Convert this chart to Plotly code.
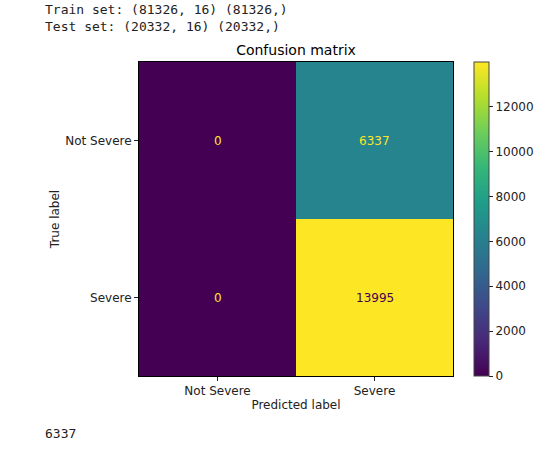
import plotly.graph_objects as go

# Confusion matrix values (rows = true label, cols = predicted label)
labels = ["Not Severe", "Severe"]
counts = [[0, 6337],
          [0, 13995]]
header_lines = ["Train set: (81326, 16) (81326,)",
                "Test set: (20332, 16) (20332,)"]
footer_text = "6337"

W, H = 557, 471
zmax = max(max(r) for r in counts)


def px_x(p):
    return p / W


def px_y(p):
    return 1 - p / H


fig = go.Figure()
fig.add_trace(go.Heatmap(
    z=counts, x=labels, y=labels,
    colorscale="Viridis", zmin=0, zmax=zmax,
    hoverinfo="z",
    colorbar=dict(
        x=px_x(474), xanchor="left", xpad=0,
        y=px_y(219), yanchor="middle", ypad=0,
        len=314, lenmode="pixels",
        thickness=15, thicknessmode="pixels",
        outlinewidth=1, outlinecolor="#444",
        ticks="outside", ticklen=4, tickcolor="#222",
        dtick=2000, tick0=0, tickformat="d",
        tickfont=dict(family="DejaVu Sans", size=12, color="#222"),
    ),
))

# cell text: light on dark cells, dark on bright cells
for i, row in enumerate(counts):
    for j, v in enumerate(row):
        fig.add_annotation(
            x=labels[j], y=labels[i], text=str(v), showarrow=False,
            font=dict(family="DejaVu Sans", size=12,
                      color="#440154" if v > zmax / 2 else "#fde725"),
        )

for k, line in enumerate(header_lines):
    fig.add_annotation(
        xref="paper", yref="paper", x=px_x(43), y=px_y(10 + 17 * k),
        xanchor="left", yanchor="middle", showarrow=False, text=line,
        font=dict(family="DejaVu Sans Mono", size=13, color="#222"),
    )

fig.add_annotation(
    xref="paper", yref="paper", x=px_x(43), y=px_y(433),
    xanchor="left", yanchor="middle", showarrow=False, text=footer_text,
    font=dict(family="DejaVu Sans Mono", size=13, color="#222"),
)

axis_common = dict(
    showline=True, mirror=True, linecolor="black", linewidth=1,
    ticks="outside", ticklen=4, tickcolor="#222",
    tickfont=dict(family="DejaVu Sans", size=12, color="#222"),
    showgrid=False, zeroline=False,
)

fig.update_layout(
    width=W, height=H,
    margin=dict(l=0, r=0, t=0, b=0),
    paper_bgcolor="white", plot_bgcolor="white",
    title=dict(text="Confusion matrix", x=px_x(296), xanchor="center",
               y=px_y(50), yanchor="middle",
               font=dict(family="DejaVu Sans", size=14, color="black")),
    xaxis=dict(domain=[px_x(139), px_x(453)],
               title=dict(text="Predicted label", standoff=3,
                          font=dict(family="DejaVu Sans", size=12, color="#222")),
               **axis_common),
    yaxis=dict(domain=[px_y(376), px_y(62)], autorange="reversed",
               title=dict(text="True label", standoff=3,
                          font=dict(family="DejaVu Sans", size=12, color="#222")),
               **axis_common),
)

# drop the default page margin so the figure sits at the window's corner
fig.write_html("out.html", config={"displayModeBar": False},
               post_script="document.body.style.margin='0';")
